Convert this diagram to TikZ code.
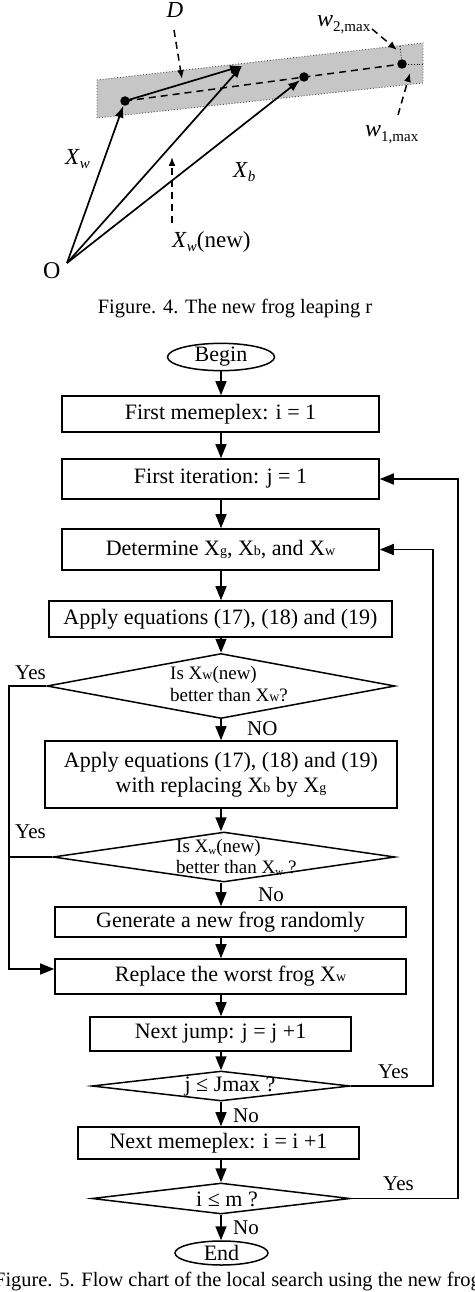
\documentclass[tikz,border=0pt]{standalone}
\usepackage{fontspec}
\setmainfont{Liberation Serif}
\usetikzlibrary{arrows.meta,shapes.geometric}
\newcommand\fsz[2]{\fontsize{#1}{#2}\selectfont}
\newcommand\sbx[1]{{\fsz{14}{14}#1}}
\newcommand\sbl[1]{\raisebox{-2pt}{\fsz{11}{11}#1}}
\newcommand\vx[1]{\textit{X}\raisebox{-4pt}{\fsz{15}{15}\textit{#1}}}
\begin{document}
\begin{tikzpicture}[x=1pt,y=-1pt,
  box/.style={draw, line width=1.6pt, inner sep=0pt, font=\fsz{22}{25}},
  dia/.style={draw, diamond, line width=1.5pt, inner sep=0pt},
  term/.style={draw, ellipse, line width=1.5pt, inner sep=0pt, font=\fsz{22}{25}},
  lab/.style={anchor=base west, inner sep=0pt, font=\fsz{21}{24}},
  dtxt/.style={inner sep=0pt, font=\fsz{19}{22}},
  conn/.style={line width=1.5pt},
  arr/.style={conn, -{Triangle[length=14pt,width=11pt]}},
  varr/.style={line width=1.7pt, -{Latex[length=12pt,width=9pt]}},
  darr/.style={line width=1.5pt, dash pattern=on 7pt off 5pt, -{Latex[length=9pt,width=7pt]}},
  dot/.style={fill, circle, inner sep=0pt, minimum size=9.5pt},
  tlab/.style={inner sep=0pt, font=\fsz{23}{25}}]
\useasboundingbox (0,0) rectangle (474,1292);

% ---------------- Figure 4 ----------------
\fill[gray!45] (97,80) -- (423,43) -- (423,83) -- (97,118) -- cycle;
\draw[dotted, line width=0.9pt, black!70] (97,80) -- (423,43) -- (423,83) -- (97,118) -- cycle;
\coordinate (O) at (67,263);
\node[dot] (pw) at (125,101) {};
\coordinate (pn) at (242,66);
\node[dot] (pb) at (304,77) {};
\node[dot] (pf) at (402,64) {};
\draw[dotted, line width=0.9pt] (pf.center) -- (423,64);
\draw[dotted, line width=0.9pt] (400,46) -- (pf.center);
\draw[line width=1.5pt, dash pattern=on 7pt off 5pt] (pw.center) -- (pf.center);
\draw[varr] (O) -- (pw);
\draw[varr] (O) -- (pn);
\draw[varr] (O) -- (pb);
\draw[varr] (pw.center) -- (pn);

\node[tlab, anchor=base] (lD) at (175,18) {\textit{D}};
\coordinate (tD) at (182,79);
\draw[darr] (174,30) -- (tD);

\node[tlab, anchor=base west, font=\fsz{24}{25}] (lw2) at (317,27) {\textit{w}\raisebox{-5pt}{\fsz{15}{15}2,max}};
\coordinate (tw2) at (397,50);
\draw[darr] (372,29) -- (tw2);

\node[tlab, anchor=base west, font=\fsz{24}{25}] (lw1) at (365,137) {\textit{w}\raisebox{-5pt}{\fsz{15}{15}1,max}};
\coordinate (tw1) at (410,73);
\draw[darr] (398,115) -- (tw1);

\node[tlab, anchor=base west] (lxw) at (65,165) {\vx{w}};
\node[tlab, anchor=base west] (lxb) at (233,178) {\vx{b}};
\node[tlab, anchor=base west] (lxn) at (172,247) {\vx{w}(new)};
\coordinate (tn) at (172,157);
\draw[darr] (172,223) -- (tn);
\node[tlab, anchor=base west, font=\fsz{24}{25}] (lO) at (43,278) {O};

\node[inner sep=0pt, anchor=base, font=\fsz{20.4}{22}] (cap4) at (235,313) {Figure. 4. The new frog leaping r};

% ---------------- Figure 5 ----------------
\node[term, minimum width=107pt, minimum height=25pt] (begin) at (221,357) {Begin};
\node[box, minimum width=317pt, minimum height=36pt] (b1) at (220.5,414) {First memeplex: i = 1};
\node[box, minimum width=317pt, minimum height=40pt] (b2) at (220.5,479) {First iteration: j = 1};
\node[box, minimum width=317pt, minimum height=41pt] (b3) at (220.5,549.5) {Determine X\sbx{g}, X\sbx{b}, and X\sbx{w}};
\node[box, minimum width=343pt, minimum height=36pt] (b4) at (220.5,619) {Apply equations (17), (18) and (19)};
\node[dia, minimum width=348pt, minimum height=65pt] (d1) at (221,686) {};
\node[dtxt, anchor=west, align=left] (t1) at (170,684) {Is X\sbx{w}(new)\\better than X\sbx{w}?};
\node[box, minimum width=352pt, minimum height=67pt, align=center] (b5) at (221,774.5) {Apply equations (17), (18) and (19)\\with replacing X\sbx{b} by X\sbx{g}};
\node[dia, minimum width=342pt, minimum height=50pt] (d2) at (224,857) {};
\node[dtxt, anchor=west, align=left, font=\fsz{19}{21}] (t2) at (176,857) {Is X\sbl{w}(new)\\better than X\sbl{w} ?};
\node[box, minimum width=351pt, minimum height=30pt] (b6) at (230.5,922) {Generate a new frog randomly};
\node[box, minimum width=351pt, minimum height=35pt] (b7) at (230.5,976.5) {Replace the worst frog X\sbx{w}};
\node[box, minimum width=261pt, minimum height=34pt] (b8) at (220.5,1034) {Next jump: j = j +1};
\node[dia, minimum width=258pt, minimum height=30pt] (d3) at (221,1086) {};
\node[inner sep=0pt, font=\fsz{22}{25}] (t3) at (230,1087) {j ≤ Jmax ?};
\node[box, minimum width=281pt, minimum height=32pt] (b9) at (218.5,1143) {Next memeplex: i = i +1};
\node[dia, minimum width=258pt, minimum height=31pt] (d4) at (221,1198.5) {};
\node[inner sep=0pt, font=\fsz{22}{25}] (t4) at (227,1199) {i ≤ m ?};
\node[term, minimum width=93pt, minimum height=24pt] (end) at (221.5,1253) {End};

\draw[arr] (begin.south) -- (b1.north -| begin);
\draw[arr] (b1.south -| begin) -- (b2.north -| begin);
\draw[arr] (b2.south -| begin) -- (b3.north -| begin);
\draw[arr] (b3.south -| begin) -- (b4.north -| begin);
\draw[arr] (b4.south -| begin) -- (d1.north -| begin);
\draw[arr] (d1.south -| begin) -- (b5.north -| begin);
\draw[arr] (b5.south -| begin) -- (d2.north -| begin);
\draw[arr] (d2.south -| begin) -- (b6.north -| begin);
\draw[arr] (b6.south -| begin) -- (b7.north -| begin);
\draw[arr] (b7.south -| begin) -- (b8.north -| begin);
\draw[arr] (b8.south -| begin) -- (d3.north -| begin);
\draw[arr] (d3.south -| begin) -- (b9.north -| begin);
\draw[arr] (b9.south -| begin) -- (d4.north -| begin);
\draw[arr] (d4.south -| begin) -- (end.north -| begin);

\coordinate (yl) at (9,0);
\coordinate (r1) at (433,0);
\coordinate (r2) at (458,0);
\draw[arr] (d1.west) -- (d1.west -| yl) |- ([yshift=7.5pt]b7.west);
\draw[conn] (d2.west) -- (d2.west -| yl);
\draw[arr] (d3.east) -- (d3.east -| r1) -- (b3.east -| r1) -- (b3.east);
\draw[arr] (d4.east) -- (d4.east -| r2) -- (b2.east -| r2) -- (b2.east);

\node[lab] (y1) at (15,679) {Yes};
\node[lab] (n1) at (247,735) {NO};
\node[lab] (y2) at (15,838) {Yes};
\node[lab] (n2) at (258,901) {No};
\node[lab] (y3) at (378,1078) {Yes};
\node[lab] (n3) at (233,1122) {No};
\node[lab] (y4) at (383,1190) {Yes};
\node[lab] (n4) at (233,1234) {No};

\node[inner sep=0pt, anchor=base west, font=\fsz{20.4}{22}] (cap5) at (-6,1286) {Figure. 5. Flow chart of the local search using the new frog};
\end{tikzpicture}
\end{document}
